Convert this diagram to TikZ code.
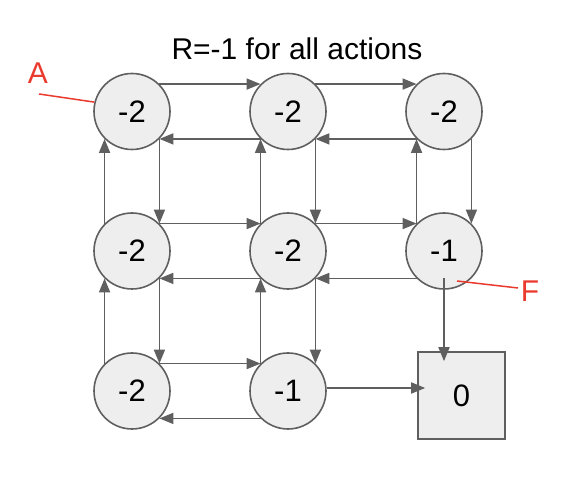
\documentclass[tikz,border=0pt]{standalone}
\usepackage{fontspec}
\setmainfont{Liberation Sans}
\usetikzlibrary{arrows.meta, positioning, calc}

\definecolor{cellfill}{HTML}{EEEEEE}
\definecolor{edgegray}{HTML}{5F5F5F}
\definecolor{notered}{HTML}{EA3A2E}

\begin{document}
\begin{tikzpicture}[x=1pt, y=1pt,
  state/.style={circle, draw=edgegray, line width=1.6pt, fill=cellfill, minimum size=76pt, inner sep=0pt, font=\fontsize{31}{36}\selectfont},
  goal/.style={rectangle, draw=edgegray, line width=1.6pt, fill=cellfill, minimum size=87pt, inner sep=0pt, font=\fontsize{31}{36}\selectfont},
  move/.style={-{Triangle[length=14pt,width=11pt]}, draw=edgegray, line width=1.8pt},
  pointer/.style={draw=notered, line width=1.5pt},
  note/.style={text=notered, inner sep=0pt, font=\fontsize{30}{36}\selectfont}]
\useasboundingbox (0,0) rectangle (566,490);

% Title
\node[anchor=base, inner sep=0pt, font=\fontsize{30}{36}\selectfont] (title) at (297,430) {R=-1 for all actions};

% Grid of states
\node[state] (c11) at (132,378.5) {-2};
\node[state] (c12) at (288,378.5) {-2};
\node[state] (c13) at (444,378.5) {-2};

\node[state] (c21) at (132,239) {-2};
\node[state] (c22) at (288,239) {-2};
\node[state] (c23) at (444,239) {-1};

\node[state] (c31) at (132,99) {-2};
\node[state] (c32) at (288,99) {-1};
\node[goal] (sq) at (461.5,94.5) {0};

% Top row
\draw[move] (c11.45) -- (c12.135);
\draw[move] (c12.-135) -- (c11.-45);
\draw[move] (c12.45) -- (c13.135);
\draw[move] (c13.-135) -- (c12.-45);

% Between top and middle rows
\draw[move] (c21.135) -- (c11.-135);
\draw[move] (c11.-45) -- (c21.45);
\draw[move] (c22.135) -- (c12.-135);
\draw[move] (c12.-45) -- (c22.45);
\draw[move] (c23.135) -- (c13.-135);
\draw[move] (c13.-45) -- (c23.45);

% Middle row
\draw[move] (c21.45) -- (c22.135);
\draw[move] (c22.-135) -- (c21.-45);
\draw[move] (c22.45) -- (c23.135);
\draw[move] (c23.-135) -- (c22.-45);

% Between middle and bottom rows
\draw[move] (c31.135) -- (c21.-135);
\draw[move] (c21.-45) -- (c31.45);
\draw[move] (c32.135) -- (c22.-135);
\draw[move] (c22.-45) -- (c32.45);
\draw[move] ([yshift=-27pt]c23.center) -- ([yshift=-10pt]c23 |- sq.north);

% Bottom row
\draw[move] (c31.45) -- (c32.135);
\draw[move] (c32.-135) -- (c31.-45);
\draw[move] ([yshift=3pt]c32.east) -- ([xshift=8pt,yshift=3pt]sq.west |- c32.east);

% Start and finish markers
\node[note, anchor=base] (lblA) at (38,406) {A};
\coordinate (tailA) at (39,396);
\draw[pointer] (tailA) -- (c11.166);

\node[note, anchor=base] (lblF) at (530,188) {F};
\coordinate (headF) at (457,209);
\coordinate (tailF) at (518,202);
\draw[pointer] (headF) -- (tailF);
\end{tikzpicture}
\end{document}
